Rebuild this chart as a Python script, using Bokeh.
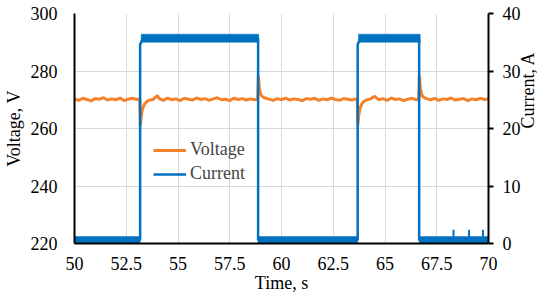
import math
from bokeh.plotting import figure
from bokeh.models import (Range1d, LinearAxis, FixedTicker, NumeralTickFormatter,
                          Legend, LegendItem, ColumnDataSource)
from bokeh.embed import file_html
from bokeh.resources import INLINE

# ---------------- data ----------------
x_ticks = [50, 52.5, 55, 57.5, 60, 62.5, 65, 67.5, 70]
v_ticks = [220, 240, 260, 280, 300]
i_ticks = [0, 10, 20, 30, 40]

v_time = [
    50.0, 50.2, 50.4, 50.6, 50.8, 51.0, 51.2, 51.4, 51.6, 51.8, 52.0, 52.2, 52.4, 52.6, 52.8, 53.0, 53.15,
    53.18, 53.22, 53.28, 53.36, 53.46, 53.6, 53.8, 54.0, 54.1, 54.3, 54.5, 54.7, 54.9, 55.1, 55.3, 55.5,
    55.7, 55.9, 56.1, 56.3, 56.5, 56.7, 56.9, 57.1, 57.3, 57.5, 57.7, 57.9, 58.1, 58.3, 58.5, 58.7, 58.85,
    58.88, 58.93, 59.0, 59.1, 59.25, 59.4, 59.6, 59.8, 60.0, 60.2, 60.4, 60.6, 60.8, 61.0, 61.2, 61.4,
    61.6, 61.8, 62.0, 62.2, 62.4, 62.6, 62.8, 63.0, 63.2, 63.4, 63.6, 63.66,
    63.69, 63.73, 63.79, 63.87, 63.97, 64.1, 64.3, 64.5, 64.7, 64.9, 65.1, 65.3, 65.5, 65.7, 65.9, 66.1,
    66.3, 66.5, 66.63,
    66.66, 66.71, 66.78, 66.88, 67.0, 67.2, 67.4, 67.6, 67.8, 68.0, 68.2, 68.4, 68.6, 68.8, 69.0, 69.2,
    69.4, 69.6, 69.8, 70.0,
]
voltage = [
    270.3, 269.8, 270.5, 270.1, 269.6, 270.4, 270.2, 270.7, 269.9, 270.3, 270.0, 270.6, 269.7, 270.2, 270.5, 270.1, 270.3,
    261.0, 264.2, 266.6, 268.2, 269.1, 269.8, 270.1, 271.4, 270.4, 269.8, 270.6, 270.0, 270.3, 269.7, 270.5, 270.2,
    269.9, 270.6, 270.1, 270.4, 269.8, 270.3, 270.7, 270.0, 270.2, 269.7, 270.5, 270.1, 270.4, 269.9, 270.3, 270.0, 270.2,
    278.3, 274.0, 271.8, 270.9, 270.5, 270.2, 269.8, 270.4, 270.0, 270.6, 269.9, 270.3, 270.1, 269.7, 270.4, 270.2,
    270.5, 269.8, 270.3, 270.0, 270.6, 270.1, 269.8, 270.4, 270.2, 269.9, 270.3, 270.1,
    261.2, 264.5, 266.9, 268.4, 269.4, 269.9, 270.3, 271.2, 270.0, 270.4, 269.8, 270.6, 270.1, 270.3, 269.7, 270.2,
    270.5, 270.0, 270.2,
    278.6, 273.8, 271.6, 270.8, 270.4, 270.0, 270.5, 269.8, 270.3, 270.1, 270.6, 269.9, 270.2, 270.4, 269.7, 270.3,
    270.0, 270.5, 270.1, 270.3,
]

cur_time = [50.0, 53.17, 53.17, 53.3, 58.87, 58.87, 63.68, 63.68, 63.8, 66.65, 66.65, 70.0]
current = [0.6, 0.6, 34.6, 35.6, 35.6, 0.6, 0.6, 34.6, 35.6, 35.6, 0.6, 0.6]

# ripple envelope of the current (min / max) over each interval
band_start = [50.0, 53.22, 58.87, 63.72, 66.65]
band_end = [53.17, 58.9, 63.68, 66.7, 70.0]
band_low = [0.0, 35.0, 0.0, 35.0, 0.0]
band_high = [1.2, 36.4, 1.2, 36.4, 1.2]

spike_time = [68.31, 69.06, 69.73]
spike_peak = [2.4, 2.4, 2.4]
spike_base = [1.0, 1.0, 1.0]

# ---------------- style ----------------
FONT = "Liberation Serif"
FS = "18px"
ORANGE = "#F5822A"
BLUE = "#0070C0"
GRID = "#D9D9D9"

p = figure(width=550, height=303, output_backend="svg", toolbar_location=None,
           x_range=Range1d(50, 70), y_range=Range1d(220, 300),
           min_border_left=72, min_border_right=59, min_border_top=13, min_border_bottom=60)
p.outline_line_color = None
p.background_fill_color = "white"
p.border_fill_color = "white"

p.extra_y_ranges = {"cur": Range1d(0, 40)}

# voltage
vl = p.line(v_time, voltage, line_color=ORANGE, line_width=3)

# current
src_band = ColumnDataSource(dict(l=band_start, r=band_end, b=band_low, t=band_high))
p.quad(left="l", right="r", bottom="b", top="t", source=src_band, y_range_name="cur",
       fill_color=BLUE, line_color=BLUE, line_width=0.5)
cl = p.line(cur_time, current, line_color=BLUE, line_width=2.5, y_range_name="cur")
p.segment(x0=spike_time, y0=spike_base, x1=spike_time, y1=spike_peak,
          line_color=BLUE, line_width=2, y_range_name="cur")

# axes
xa = p.xaxis[0]
xa.ticker = FixedTicker(ticks=x_ticks)
xa.formatter = NumeralTickFormatter(format="0.[0]")
xa.axis_label = "Time, s"
ya = p.yaxis[0]
ya.ticker = FixedTicker(ticks=v_ticks)
ya.axis_label = "Voltage, V"

ra = LinearAxis(y_range_name="cur", ticker=FixedTicker(ticks=i_ticks), axis_label="Current, A")
p.add_layout(ra, "right")

for ax in (xa, ya, ra):
    ax.axis_line_color = "black"
    ax.axis_line_width = 2
    ax.major_tick_in = 0
    ax.major_tick_out = 0
    ax.minor_tick_in = 0
    ax.minor_tick_out = 0
    ax.major_label_text_font = FONT
    ax.major_label_text_font_size = FS
    ax.major_label_text_font_style = "normal"
    ax.major_label_text_color = "black"
    ax.axis_label_text_font = FONT
    ax.axis_label_text_font_size = FS
    ax.axis_label_text_font_style = "normal"
    ax.axis_label_text_color = "black"

ra.major_tick_out = 5
ra.major_tick_line_width = 2
ra.major_tick_line_color = "black"
ra.major_label_standoff = 9
ra.axis_label_standoff = 4
ra.axis_label_orientation = math.pi / 2   # reads bottom-to-top
ya.major_label_standoff = 17
ya.axis_label_standoff = 4
xa.major_label_standoff = 13
xa.axis_label_standoff = 0

p.xgrid.ticker = FixedTicker(ticks=x_ticks)
p.ygrid.ticker = FixedTicker(ticks=v_ticks)
p.xgrid.grid_line_color = GRID
p.ygrid.grid_line_color = GRID
p.xgrid.grid_line_width = 1
p.ygrid.grid_line_width = 1

legend = Legend(items=[LegendItem(label="Voltage", renderers=[vl]),
                       LegendItem(label="Current", renderers=[cl])],
                location=(79, 59), padding=0, margin=0, spacing=3,
                glyph_width=33, glyph_height=20, label_standoff=4,
                label_text_font=FONT, label_text_font_size=FS,
                background_fill_alpha=0, border_line_color=None)
p.add_layout(legend)

open("out.html", "w").write(file_html(p, INLINE))
